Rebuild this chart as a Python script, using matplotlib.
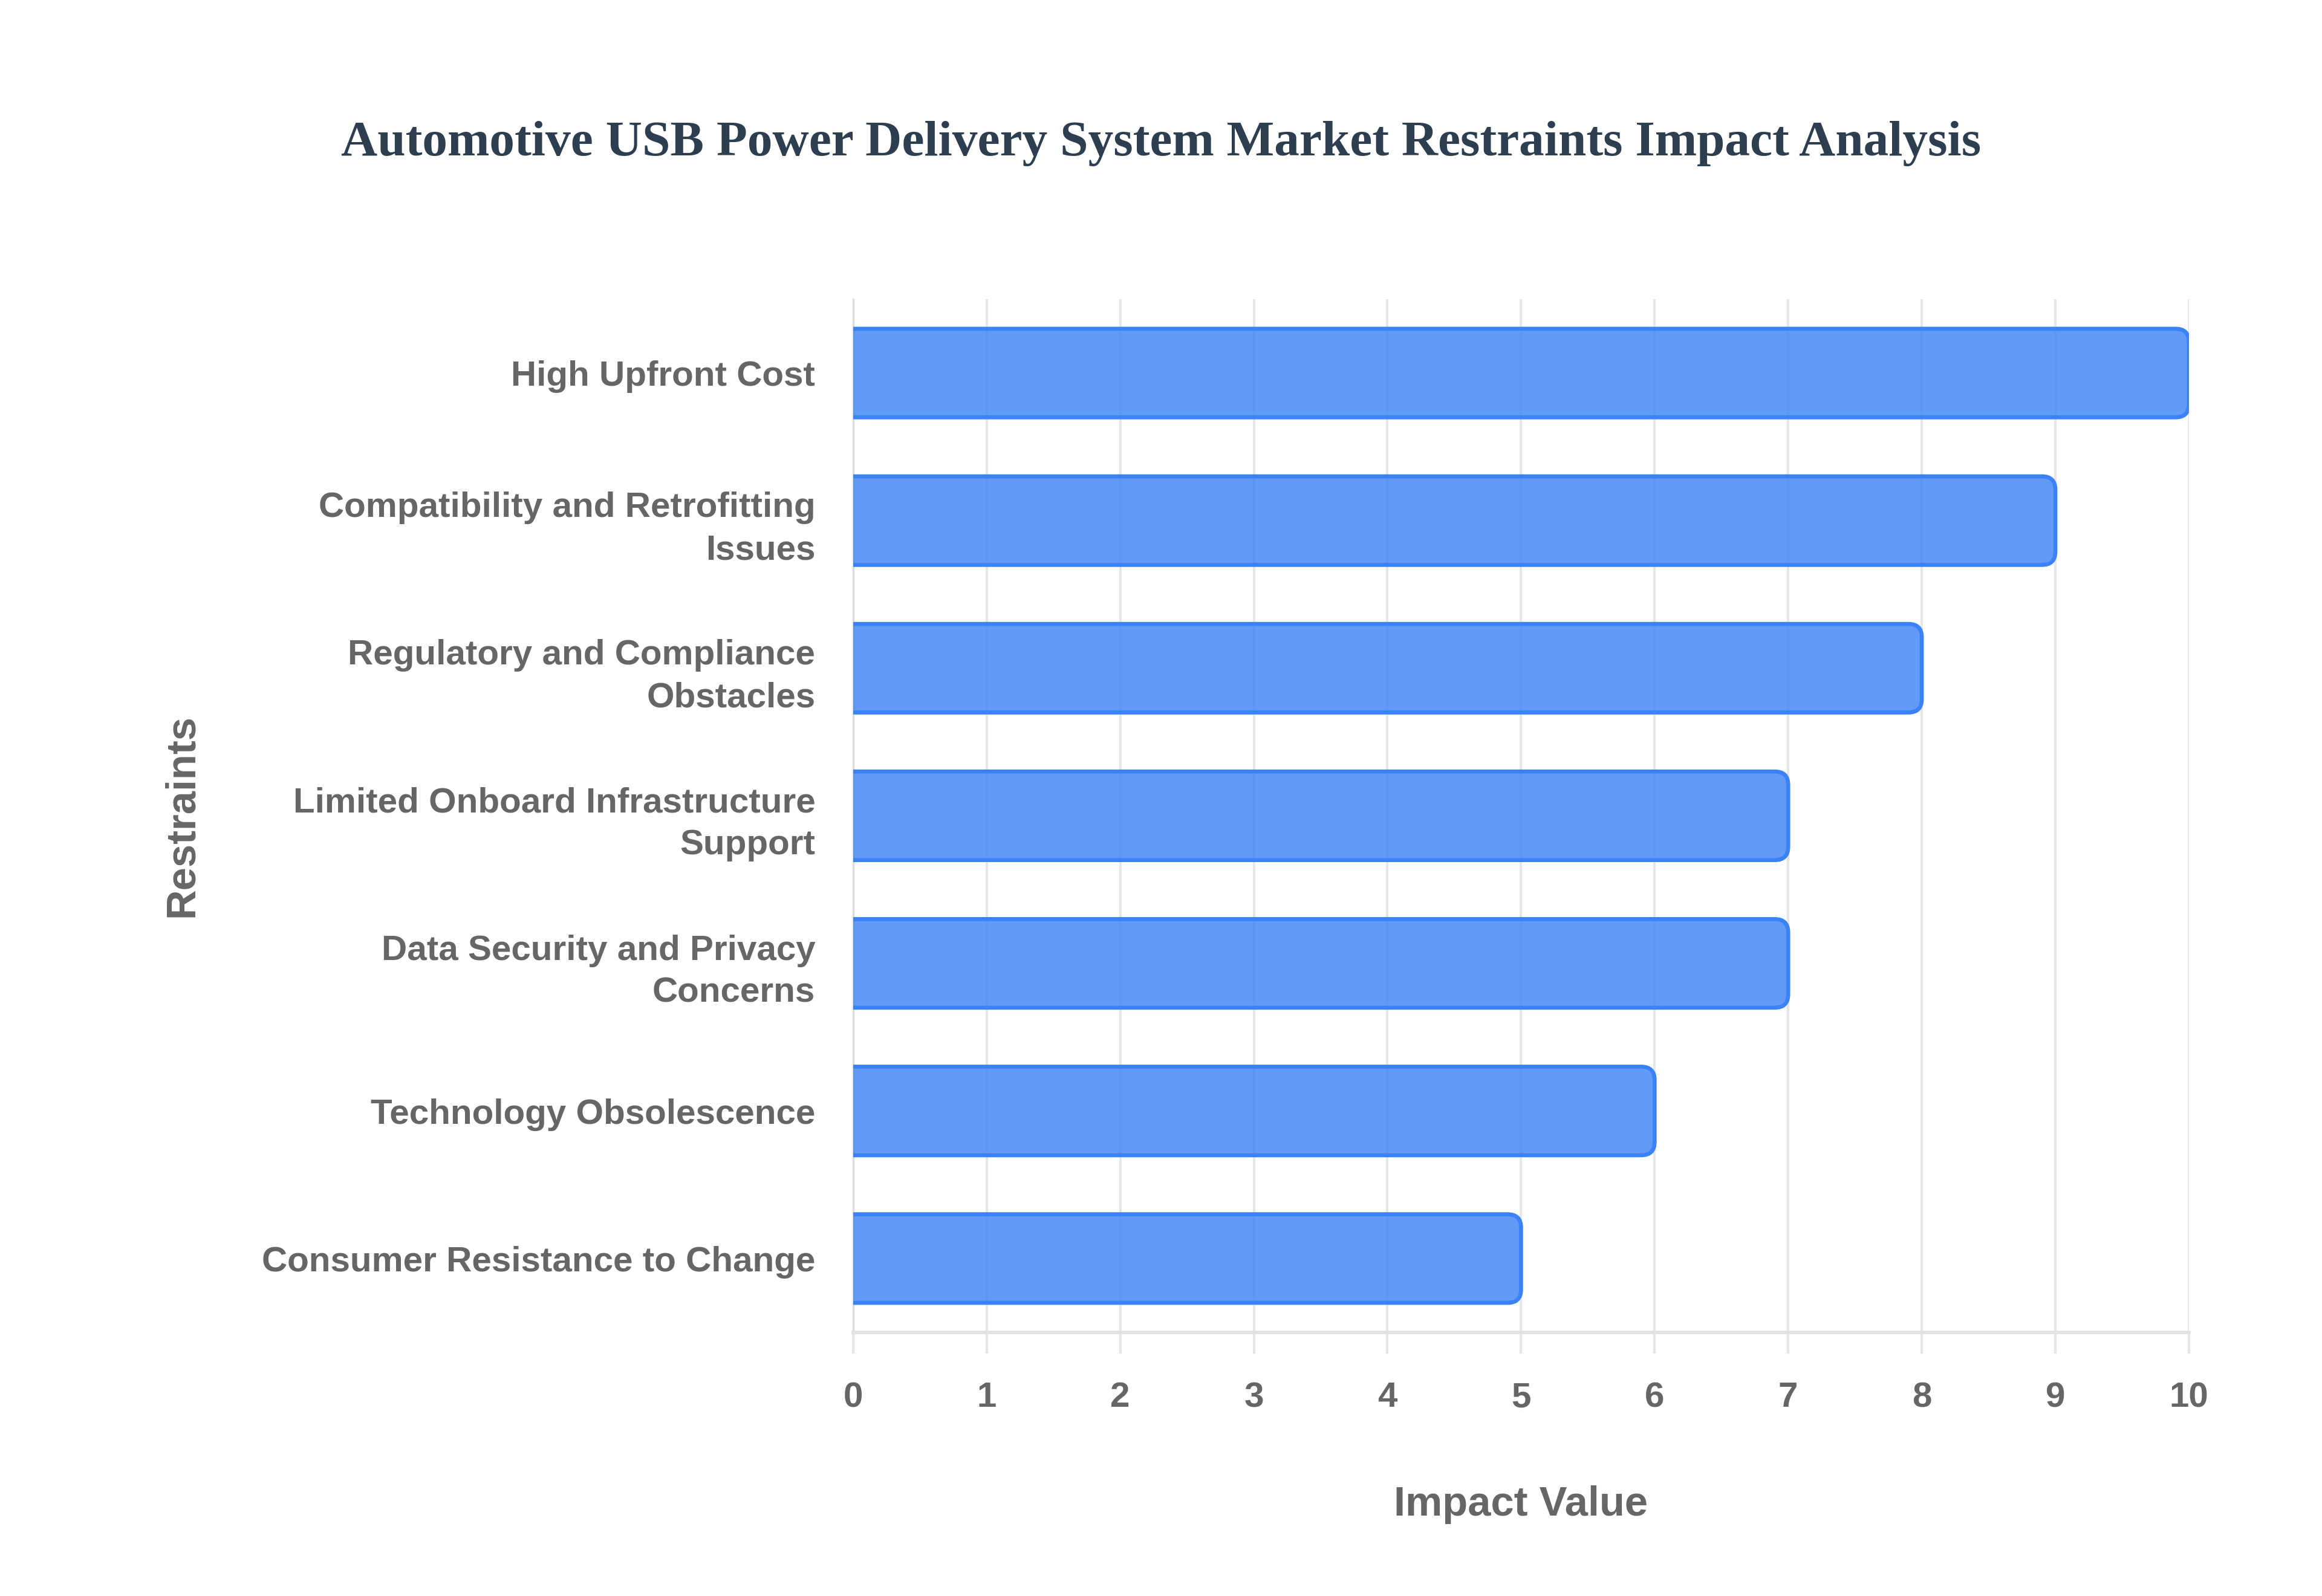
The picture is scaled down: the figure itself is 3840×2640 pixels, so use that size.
import matplotlib
matplotlib.use("Agg")
import matplotlib.pyplot as plt
from matplotlib.patches import FancyBboxPatch

restraints = [
    "High Upfront Cost",
    "Compatibility and Retrofitting\nIssues",
    "Regulatory and Compliance\nObstacles",
    "Limited Onboard Infrastructure\nSupport",
    "Data Security and Privacy\nConcerns",
    "Technology Obsolescence",
    "Consumer Resistance to Change",
]
impact = [10, 9, 8, 7, 7, 6, 5]
x_ticks = [0, 1, 2, 3, 4, 5, 6, 7, 8, 9, 10]

TITLE = "Automotive USB Power Delivery System Market Restraints Impact Analysis"
FILL = (59 / 255, 130 / 255, 246 / 255, 0.8)
EDGE = "#3b82f6"
GREY = "#666666"


def main():
    fig = plt.figure(figsize=(12.8, 8.8), dpi=300)
    ax = fig.add_axes([0.3674, 0.1652, 0.5753, 0.6473])

    ypos = list(range(len(restraints)))
    bars = ax.barh(ypos, impact, height=0.6, color="none", edgecolor="none")

    # swap the square bars for ones with rounded right ends
    r = 0.1
    for b in bars:
        x0, y0 = b.get_x(), b.get_y()
        w, h = b.get_width(), b.get_height()
        patch = FancyBboxPatch((x0 - r, y0), w + r, h,
                               boxstyle=f"round,pad=0,rounding_size={r}",
                               mutation_aspect=0.9,
                               facecolor=FILL, edgecolor=EDGE, linewidth=1.6,
                               zorder=3)
        ax.add_patch(patch)

    ax.set_xlim(0, 10)
    ax.set_ylim(len(restraints) - 0.5, -0.5)
    ax.set_xticks(x_ticks)
    ax.set_yticks(ypos)
    ax.set_yticklabels(restraints, linespacing=1.38)

    ax.grid(axis="x", color="#e6e6e6", linewidth=1.0, zorder=0)
    ax.set_axisbelow(True)

    for s in ["top", "right"]:
        ax.spines[s].set_visible(False)
    ax.spines["left"].set_color("#dddddd")
    ax.spines["bottom"].set_color("#e3e3e3")
    ax.spines["bottom"].set_linewidth(1.4)

    ax.tick_params(axis="x", length=8.5, color="#e6e6e6", width=1.0, pad=11,
                   labelsize=14, labelcolor=GREY)
    ax.tick_params(axis="y", length=0, pad=15, labelsize=14, labelcolor=GREY)
    for lab in ax.get_xticklabels() + ax.get_yticklabels():
        lab.set_fontfamily("Liberation Sans")
        lab.set_fontweight("bold")

    ax.set_xlabel("Impact Value", fontsize=16.5, fontweight="bold", color=GREY,
                  fontfamily="Liberation Sans")
    ax.set_ylabel("Restraints", fontsize=16.5, fontweight="bold", color=GREY,
                  fontfamily="Liberation Sans")
    ax.xaxis.set_label_coords(0.5, -0.148)
    ax.yaxis.set_label_coords(-0.488, 0.5)

    fig.text(0.5, 0.91, TITLE, ha="center", va="center", fontsize=20,
             fontweight="bold", color="#2c3e50", fontfamily="Liberation Serif")

    fig.savefig("out.png", dpi=300)
    plt.close(fig)


if __name__ == "__main__":
    main()
